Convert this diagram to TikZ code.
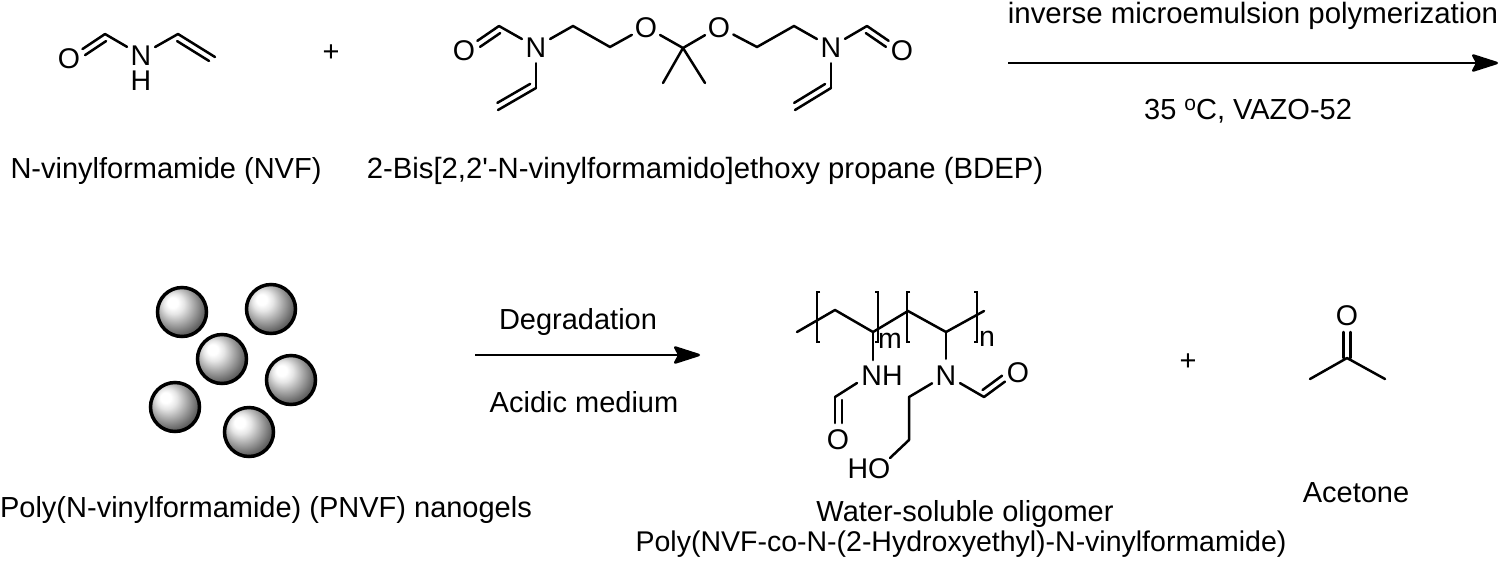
\documentclass[tikz,border=0pt]{standalone}
\usepackage{fontspec}
\setmainfont{Liberation Sans}
\newfontfamily\plainfont{Liberation Sans}
\usetikzlibrary{calc,arrows.meta}
\pgfdeclareradialshading{sphereshade}{\pgfpoint{-10bp}{10bp}}{
  color(0bp)=(white); color(5bp)=(white); color(10bp)=(black!10); color(19bp)=(black!38);
  color(26bp)=(black!60); color(32bp)=(black!75); color(38bp)=(black!85); color(50bp)=(black!90)}
% #1 from, #2 to, #3 shorten at from, #4 shorten at to
\newcommand{\dblbond}[4]{%
  \draw[bond] (#1) -- (#2);
  \draw[bond,shorten <=#3,shorten >=#4]
    ($(#1)!6.5pt!90:(#2)$) -- ($(#2)!6.5pt!-90:(#1)$);}
\newcommand{\dblbondR}[4]{%
  \draw[bond] (#1) -- (#2);
  \draw[bond,shorten <=#3,shorten >=#4]
    ($(#1)!6.5pt!-90:(#2)$) -- ($(#2)!6.5pt!90:(#1)$);}
\tikzset{
  bond/.style={line width=2.5pt,line cap=round,line join=round},
  atom/.style={font=\fontsize{28.5}{30}\selectfont,inner sep=0pt,text height=20pt,text depth=0pt},
  atomtight/.style={atom,circle,minimum size=32pt},
  label/.style={font=\fontsize{29}{34}\selectfont,inner sep=0pt,align=center},
  rarrow/.style={line width=2.5pt,-{Stealth[length=30pt,width=19pt,inset=5pt,round]}},
  sphere/.style={circle,draw=black,line width=3.5pt,minimum size=49pt,inner sep=0pt,
    path picture={\shade[shading=sphereshade] (path picture bounding box.center) circle (26pt);}},
  bracket/.style={line width=2.5pt,line cap=butt,line join=miter}
}
\begin{document}
\begin{tikzpicture}[x=1pt,y=-1pt]
\useasboundingbox (0,0) rectangle (1501,563);
% NVF
\node[atomtight] (o1) at (69,58) {O};
\coordinate (c1) at (105,34);
\node[atomtight] (n1) at (141,55) {N};
\node[atom] (h1) at (141,80) {H};
\coordinate (c2) at (178,34);
\coordinate (c3) at (215,57);
\dblbond{c1}{o1}{3pt}{15pt}
\draw[bond] (c1) -- (n1);
\draw[bond] (n1) -- (c2);
\draw[bond] (c2) -- (c3);
\draw[bond,shorten <=3pt,shorten >=3pt] ($(c2)!6.5pt!-90:(c3)$) -- ($(c3)!6.5pt!90:(c2)$);
\node[label] (plus1) at (331,53) {+};
% BDEP
\node[atomtight] (o2) at (464,50) {O};
\coordinate (c4) at (499,26);
\node[atomtight] (n2) at (536,47) {N};
\coordinate (c5) at (573,26);
\coordinate (c6) at (610,47);
\node[atomtight] (o3) at (646,27) {O};
\coordinate (c7) at (683,48);
\node[atomtight] (o4) at (719,27) {O};
\coordinate (c8) at (757,47);
\coordinate (c9) at (794,26);
\node[atomtight] (n3) at (831,47) {N};
\coordinate (c10) at (867,26);
\node[atomtight] (o5) at (902,50) {O};
\coordinate (m1) at (663,83);
\coordinate (m2) at (705,83);
\coordinate (v1) at (536,88);
\coordinate (v2) at (498,110);
\coordinate (v3) at (831,88);
\coordinate (v4) at (795,110);
\dblbond{c4}{o2}{3pt}{15pt}
\draw[bond] (c4) -- (n2);
\draw[bond] (n2) -- (c5) -- (c6) -- (o3) -- (c7) -- (o4) -- (c8) -- (c9) -- (n3) -- (c10);
\dblbondR{c10}{o5}{3pt}{15pt}
\draw[bond] (c7) -- (m1);
\draw[bond] (c7) -- (m2);
\draw[bond] (n2) -- (v1);
\draw[bond] (n3) -- (v3);
\dblbondR{v1}{v2}{3pt}{3pt}
\dblbondR{v3}{v4}{3pt}{3pt}
% Top arrow
\coordinate (a1) at (1008,63);
\coordinate (a2) at (1498,63);
\draw[rarrow] (a1) -- (a2);
\node[label,font=\fontsize{29.4}{34}\selectfont] (t1) at (1253,16) {inverse microemulsion polymerization};
\node[label] (t2) at (1248,111) {35 \raisebox{9.5pt}{\fontsize{21}{22}\selectfont o}C, VAZO-52};
\node[label] (t3) at (166,171) {N-vinylformamide (NVF)};
\node[label,font=\fontsize{29.3}{34}\selectfont] (t4) at (705,171) {2-Bis[2,2{\plainfont'}-N-vinylformamido]ethoxy propane (BDEP)};
% Spheres
\node[sphere] (s1) at (182,312) {};
\node[sphere] (s2) at (271,309) {};
\node[sphere] (s3) at (222,359) {};
\node[sphere] (s4) at (291,380) {};
\node[sphere] (s5) at (175,407) {};
\node[sphere] (s6) at (249,432) {};
\node[label] (t5) at (266,510) {Poly(N-vinylformamide) (PNVF) nanogels};
% Second arrow
\coordinate (a3) at (475,355);
\coordinate (a4) at (700,355);
\draw[rarrow] (a3) -- (a4);
\node[label] (t6) at (578,322) {Degradation};
\node[label] (t7) at (584,402) {Acidic medium};
% Polymer
\coordinate (p0) at (797,332);
\coordinate (p1) at (835,310);
\coordinate (p2) at (873,332);
\coordinate (p3) at (908,311);
\coordinate (p4) at (946,332);
\coordinate (p5) at (984,311);
\draw[bond] (p0) -- (p1) -- (p2) -- (p3) -- (p4) -- (p5);
\draw[bracket] (820,292) -- (817,292) -- (817,342) -- (820,342);
\draw[bracket] (875,292) -- (878,292) -- (878,342) -- (875,342);
\draw[bracket] (910,292) -- (907,292) -- (907,342) -- (910,342);
\draw[bracket] (974,292) -- (977,292) -- (977,342) -- (974,342);
\node[atom] (mm) at (890,338) {m};
\node[atom] (nn) at (987,336) {n};
\node[atom,inner sep=0pt] (nh) at (882,375) {NH};
\coordinate (nhl) at (857,383);
\coordinate (nhu) at (873,360);
\draw[bond] (p2) -- (nhu);
\coordinate (c11) at (835,397);
\node[atomtight] (o6) at (838,439) {O};
\draw[bond] (nhl) -- (c11);
\draw[bond] (c11) -- (835,423);
\draw[bond] (842,400) -- (842,423);
\node[atomtight] (n4) at (946,375) {N};
\draw[bond] (p4) -- (n4);
\coordinate (c12) at (984,397);
\node[atomtight] (o7) at (1018,372) {O};
\draw[bond] (n4) -- (c12);
\dblbond{c12}{o7}{3pt}{15pt}
\coordinate (c13) at (909,397);
\coordinate (c14) at (909,440);
\coordinate (hoe) at (890,458);
\node[atom] (ho) at (869,468) {HO};
\draw[bond] (n4) -- (c13) -- (c14) -- (hoe);
\node[label] (plus2) at (1188,362) {+};
% Acetone
\node[atomtight] (o8) at (1347,315) {O};
\coordinate (c15) at (1347,358);
\coordinate (m3) at (1310,379);
\coordinate (m4) at (1385,379);
\draw[bond,shorten >=17pt] ($(c15)+(-3.7,0)$) -- ($(o8)+(-3.7,0)$);
\draw[bond,shorten >=17pt] ($(c15)+(3.7,0)$) -- ($(o8)+(3.7,0)$);
\draw[bond] (c15) -- (m3);
\draw[bond] (c15) -- (m4);
\node[label] (t8) at (1356,493) {Acetone};
\node[label] (t9) at (965,514) {Water-soluble oligomer};
\node[label,font=\fontsize{28.5}{34}\selectfont] (t10) at (961,544) {Poly(NVF-co-N-(2-Hydroxyethyl)-N-vinylformamide)};
\end{tikzpicture}
\end{document}
